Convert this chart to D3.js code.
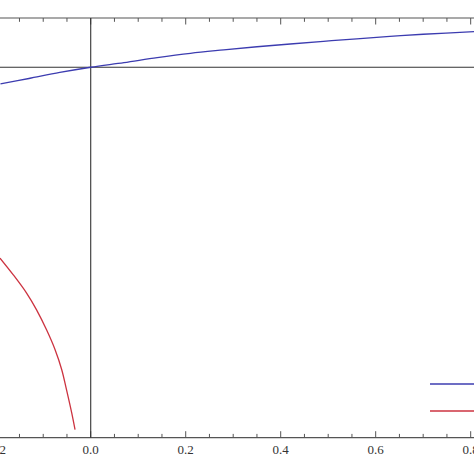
<!DOCTYPE html>
<html><head><meta charset="utf-8">
<script src="https://cdn.jsdelivr.net/npm/d3@7"></script>
<style>html,body{margin:0;padding:0;background:#fff;overflow:hidden}</style>
</head><body>
<script>
const blueX = [-0.19, -0.13, -0.065, 0, 0.07, 0.14, 0.21, 0.28, 0.35, 0.42, 0.49, 0.56, 0.63, 0.70, 0.81];
const blueY = [-0.169, -0.114, -0.053, 0, 0.047, 0.098, 0.142, 0.176, 0.208, 0.236, 0.263, 0.289, 0.313, 0.335, 0.362];
const redX = [-0.191, -0.163, -0.135, -0.114, -0.093, -0.075, -0.061, -0.051, -0.040, -0.033];
const redY = [-1.937, -2.107, -2.292, -2.462, -2.665, -2.867, -3.070, -3.273, -3.509, -3.679];
const xMajorTicks = [-0.2, 0.0, 0.2, 0.4, 0.6, 0.8];
const xTickLabels = ["-0.2", "0.0", "0.2", "0.4", "0.6", "0.8"];
const legendSeries = ["blue", "red"];

const W = 474, H = 474;
const svg = d3.select("body").append("svg").attr("width", W).attr("height", H);
const x = d3.scaleLinear().domain([-0.191, 0.807]).range([0, 474]);
const y = d3.scaleLinear().domain([-3.76, 0.5]).range([437.7, 18]);

const minorTicks = d3.range(-0.2, 0.8501, 0.05).map(v => +v.toFixed(2)).filter(v => !xMajorTicks.some(m => Math.abs(m - v) < 1e-6));

const frameColor = "#555";
// bottom axis
const bottomG = svg.append("g").attr("transform", `translate(0,${y(-3.76)})`);
bottomG.append("line").attr("x1", 0).attr("x2", W).attr("stroke", frameColor).attr("stroke-width", 1.2);
bottomG.selectAll("line.maj").data(xMajorTicks).join("line").attr("class","maj")
  .attr("x1", d => x(d)).attr("x2", d => x(d)).attr("y1", 0).attr("y2", -6.5).attr("stroke", frameColor);
bottomG.selectAll("line.min").data(minorTicks).join("line").attr("class","min")
  .attr("x1", d => x(d)).attr("x2", d => x(d)).attr("y1", 0).attr("y2", -3.8).attr("stroke", frameColor);
bottomG.selectAll("text").data(xMajorTicks).join("text")
  .attr("x", d => x(d)).attr("y", 16)
  .attr("text-anchor", "middle")
  .style("font-family", "'Liberation Serif', 'DejaVu Serif', serif").style("font-size", "13px")
  .attr("fill", "#333").text((d, i) => xTickLabels[i]);

// top frame
const topG = svg.append("g").attr("transform", `translate(0,${y(0.5)})`);
topG.append("line").attr("x1", 0).attr("x2", W).attr("stroke", frameColor).attr("stroke-width", 1.2);
topG.selectAll("line.maj").data(xMajorTicks).join("line").attr("class","maj")
  .attr("x1", d => x(d)).attr("x2", d => x(d)).attr("y1", 0).attr("y2", 6.5).attr("stroke", frameColor);
topG.selectAll("line.min").data(minorTicks).join("line").attr("class","min")
  .attr("x1", d => x(d)).attr("x2", d => x(d)).attr("y1", 0).attr("y2", 3.8).attr("stroke", frameColor);

// zero axes
svg.append("line").attr("x1", 0).attr("x2", W).attr("y1", y(0)).attr("y2", y(0)).attr("stroke", "#333").attr("stroke-width", 1.1);
svg.append("line").attr("x1", x(0)).attr("x2", x(0)).attr("y1", y(0.5)).attr("y2", y(-3.76)).attr("stroke", "#333").attr("stroke-width", 1.1);

const line = d3.line().x(d => x(d[0])).y(d => y(d[1])).curve(d3.curveCatmullRom.alpha(0.5));
svg.append("path").datum(blueX.map((v, i) => [v, blueY[i]]))
  .attr("d", line).attr("fill", "none").attr("stroke", "#3c3cb0").attr("stroke-width", 1.3);
svg.append("path").datum(redX.map((v, i) => [v, redY[i]]))
  .attr("d", line).attr("fill", "none").attr("stroke", "#cc3340").attr("stroke-width", 1.3);

// legend
const legendColors = {blue: "#3c3cb0", red: "#cc3340"};
svg.selectAll("line.leg").data(legendSeries).join("line").attr("class","leg")
  .attr("x1", 430).attr("x2", 474)
  .attr("y1", (d, i) => 384 + i * 27).attr("y2", (d, i) => 384 + i * 27)
  .attr("stroke", d => legendColors[d]).attr("stroke-width", 1.3);
</script>
</body></html>
